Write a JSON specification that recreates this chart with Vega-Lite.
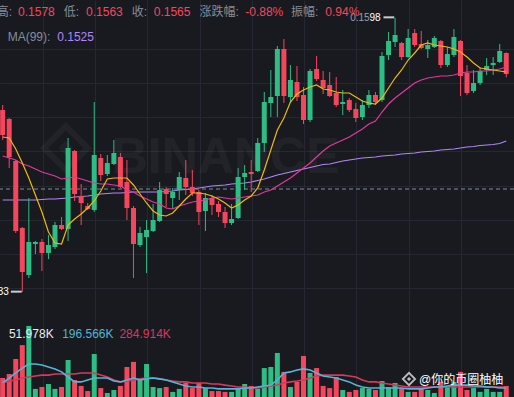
{
"$schema": "https://vega.github.io/schema/vega-lite/v6.json",
"width": 514, "height": 397, "autosize": {"type": "none"}, "padding": 0,
"background": "#181a20",
"config": {"view": {"stroke": null}, "axis": {"labels": false, "ticks": false, "domain": false, "grid": true, "gridColor": "#252830", "gridWidth": 1, "minExtent": 0, "maxExtent": 0}},
"data": {"values": [
{"i":-1,"o":0.15434,"h":0.15464,"l":0.15254,"c":0.15284,"v":89,"m7":0.15272,"m25":0.15158,"m99":0.14894,"vm5":66,"vm10":66},
{"i":0,"o":0.15380,"h":0.15386,"l":0.15086,"c":0.15152,"v":108,"m7":0.15266,"m25":0.15146,"m99":0.14894,"vm5":89,"vm10":75},
{"i":1,"o":0.15128,"h":0.15134,"l":0.14696,"c":0.14708,"v":179,"m7":0.15200,"m25":0.15134,"m99":0.14894,"vm5":113,"vm10":80},
{"i":2,"o":0.14726,"h":0.14732,"l":0.14342,"c":0.14462,"v":244,"m7":0.15116,"m25":0.15110,"m99":0.14894,"vm5":136,"vm10":89},
{"i":3,"o":0.14444,"h":0.14906,"l":0.14426,"c":0.14642,"v":334,"m7":0.15026,"m25":0.15098,"m99":0.14894,"vm5":155,"vm10":94},
{"i":4,"o":0.14630,"h":0.14648,"l":0.14570,"c":0.14642,"v":38,"m7":0.14924,"m25":0.15080,"m99":0.14894,"vm5":155,"vm10":99},
{"i":5,"o":0.14642,"h":0.14660,"l":0.14468,"c":0.14576,"v":47,"m7":0.14822,"m25":0.15062,"m99":0.14897,"vm5":150,"vm10":103},
{"i":6,"o":0.14576,"h":0.14684,"l":0.14540,"c":0.14624,"v":61,"m7":0.14702,"m25":0.15050,"m99":0.14900,"vm5":141,"vm10":103},
{"i":7,"o":0.14612,"h":0.14762,"l":0.14600,"c":0.14744,"v":38,"m7":0.14636,"m25":0.15038,"m99":0.14900,"vm5":132,"vm10":108},
{"i":8,"o":0.14744,"h":0.14792,"l":0.14714,"c":0.14720,"v":47,"m7":0.14630,"m25":0.15020,"m99":0.14903,"vm5":118,"vm10":108},
{"i":9,"o":0.14720,"h":0.15266,"l":0.14648,"c":0.15206,"v":174,"m7":0.14744,"m25":0.15026,"m99":0.14906,"vm5":94,"vm10":108},
{"i":10,"o":0.15188,"h":0.15194,"l":0.14888,"c":0.14930,"v":80,"m7":0.14780,"m25":0.15032,"m99":0.14912,"vm5":71,"vm10":108},
{"i":11,"o":0.14918,"h":0.14990,"l":0.14744,"c":0.14876,"v":52,"m7":0.14810,"m25":0.15020,"m99":0.14915,"vm5":71,"vm10":113},
{"i":12,"o":0.14858,"h":0.14876,"l":0.14834,"c":0.14840,"v":28,"m7":0.14846,"m25":0.15008,"m99":0.14918,"vm5":80,"vm10":113},
{"i":13,"o":0.14834,"h":0.15482,"l":0.14822,"c":0.15164,"v":202,"m7":0.14888,"m25":0.14996,"m99":0.14924,"vm5":89,"vm10":113},
{"i":14,"o":0.15146,"h":0.15170,"l":0.15008,"c":0.15044,"v":42,"m7":0.14948,"m25":0.14990,"m99":0.14930,"vm5":89,"vm10":103},
{"i":15,"o":0.15050,"h":0.15164,"l":0.15038,"c":0.15116,"v":19,"m7":0.15020,"m25":0.14990,"m99":0.14933,"vm5":89,"vm10":94},
{"i":16,"o":0.15110,"h":0.15254,"l":0.15104,"c":0.15176,"v":33,"m7":0.15026,"m25":0.14984,"m99":0.14936,"vm5":75,"vm10":80},
{"i":17,"o":0.15152,"h":0.15176,"l":0.14966,"c":0.14972,"v":52,"m7":0.15026,"m25":0.14978,"m99":0.14936,"vm5":71,"vm10":71},
{"i":18,"o":0.15002,"h":0.15134,"l":0.14774,"c":0.14846,"v":141,"m7":0.15026,"m25":0.14954,"m99":0.14939,"vm5":80,"vm10":75},
{"i":19,"o":0.14846,"h":0.14858,"l":0.14426,"c":0.14630,"v":165,"m7":0.14984,"m25":0.14942,"m99":0.14942,"vm5":89,"vm10":80},
{"i":20,"o":0.14624,"h":0.14732,"l":0.14612,"c":0.14696,"v":80,"m7":0.14930,"m25":0.14918,"m99":0.14942,"vm5":80,"vm10":85},
{"i":21,"o":0.14672,"h":0.14774,"l":0.14456,"c":0.14714,"v":155,"m7":0.14876,"m25":0.14900,"m99":0.14942,"vm5":85,"vm10":89},
{"i":22,"o":0.14708,"h":0.14870,"l":0.14702,"c":0.14774,"v":47,"m7":0.14828,"m25":0.14882,"m99":0.14942,"vm5":89,"vm10":89},
{"i":23,"o":0.14768,"h":0.15002,"l":0.14762,"c":0.14954,"v":42,"m7":0.14804,"m25":0.14870,"m99":0.14942,"vm5":85,"vm10":85},
{"i":24,"o":0.14960,"h":0.14972,"l":0.14852,"c":0.14930,"v":47,"m7":0.14798,"m25":0.14846,"m99":0.14945,"vm5":80,"vm10":80},
{"i":25,"o":0.14906,"h":0.14966,"l":0.14840,"c":0.14942,"v":24,"m7":0.14816,"m25":0.14840,"m99":0.14948,"vm5":71,"vm10":75},
{"i":26,"o":0.14954,"h":0.15062,"l":0.14894,"c":0.15032,"v":38,"m7":0.14858,"m25":0.14858,"m99":0.14954,"vm5":61,"vm10":71},
{"i":27,"o":0.15026,"h":0.15134,"l":0.14924,"c":0.14972,"v":66,"m7":0.14900,"m25":0.14870,"m99":0.14957,"vm5":52,"vm10":71},
{"i":28,"o":0.14972,"h":0.15074,"l":0.14918,"c":0.14936,"v":42,"m7":0.14936,"m25":0.14882,"m99":0.14960,"vm5":47,"vm10":66},
{"i":29,"o":0.14942,"h":0.14954,"l":0.14744,"c":0.14822,"v":66,"m7":0.14936,"m25":0.14888,"m99":0.14966,"vm5":47,"vm10":66},
{"i":30,"o":0.14828,"h":0.14936,"l":0.14708,"c":0.14906,"v":42,"m7":0.14930,"m25":0.14894,"m99":0.14972,"vm5":42,"vm10":66},
{"i":31,"o":0.14906,"h":0.14924,"l":0.14804,"c":0.14864,"v":28,"m7":0.14918,"m25":0.14906,"m99":0.14978,"vm5":42,"vm10":61},
{"i":32,"o":0.14870,"h":0.14888,"l":0.14792,"c":0.14822,"v":28,"m7":0.14900,"m25":0.14912,"m99":0.14981,"vm5":38,"vm10":61},
{"i":33,"o":0.14822,"h":0.14852,"l":0.14726,"c":0.14756,"v":24,"m7":0.14876,"m25":0.14906,"m99":0.14984,"vm5":38,"vm10":56},
{"i":34,"o":0.14756,"h":0.14870,"l":0.14744,"c":0.14780,"v":24,"m7":0.14846,"m25":0.14900,"m99":0.14990,"vm5":38,"vm10":52},
{"i":35,"o":0.14786,"h":0.15086,"l":0.14780,"c":0.15032,"v":42,"m7":0.14864,"m25":0.14906,"m99":0.14993,"vm5":38,"vm10":47},
{"i":36,"o":0.15032,"h":0.15104,"l":0.14954,"c":0.15056,"v":61,"m7":0.14894,"m25":0.14912,"m99":0.14996,"vm5":42,"vm10":47},
{"i":37,"o":0.15062,"h":0.15134,"l":0.14942,"c":0.15050,"v":52,"m7":0.14918,"m25":0.14918,"m99":0.15002,"vm5":42,"vm10":42},
{"i":38,"o":0.15068,"h":0.15266,"l":0.15062,"c":0.15236,"v":38,"m7":0.14966,"m25":0.14924,"m99":0.15011,"vm5":47,"vm10":42},
{"i":39,"o":0.15236,"h":0.15542,"l":0.15182,"c":0.15482,"v":136,"m7":0.15074,"m25":0.14942,"m99":0.15020,"vm5":52,"vm10":47},
{"i":40,"o":0.15476,"h":0.15674,"l":0.15392,"c":0.15512,"v":141,"m7":0.15194,"m25":0.14954,"m99":0.15032,"vm5":56,"vm10":52},
{"i":41,"o":0.15518,"h":0.15818,"l":0.15392,"c":0.15800,"v":207,"m7":0.15314,"m25":0.14978,"m99":0.15044,"vm5":80,"vm10":56},
{"i":42,"o":0.15800,"h":0.15860,"l":0.15476,"c":0.15518,"v":118,"m7":0.15386,"m25":0.15002,"m99":0.15053,"vm5":113,"vm10":66},
{"i":43,"o":0.15512,"h":0.15704,"l":0.15476,"c":0.15614,"v":47,"m7":0.15482,"m25":0.15026,"m99":0.15062,"vm5":118,"vm10":71},
{"i":44,"o":0.15602,"h":0.15698,"l":0.15488,"c":0.15512,"v":71,"m7":0.15530,"m25":0.15056,"m99":0.15071,"vm5":127,"vm10":75},
{"i":45,"o":0.15524,"h":0.15572,"l":0.15350,"c":0.15374,"v":193,"m7":0.15554,"m25":0.15086,"m99":0.15080,"vm5":132,"vm10":80},
{"i":46,"o":0.15374,"h":0.15680,"l":0.15362,"c":0.15668,"v":113,"m7":0.15572,"m25":0.15116,"m99":0.15089,"vm5":127,"vm10":89},
{"i":47,"o":0.15680,"h":0.15758,"l":0.15608,"c":0.15620,"v":136,"m7":0.15584,"m25":0.15152,"m99":0.15098,"vm5":113,"vm10":99},
{"i":48,"o":0.15614,"h":0.15668,"l":0.15530,"c":0.15566,"v":52,"m7":0.15560,"m25":0.15188,"m99":0.15107,"vm5":99,"vm10":103},
{"i":49,"o":0.15584,"h":0.15662,"l":0.15512,"c":0.15518,"v":42,"m7":0.15554,"m25":0.15218,"m99":0.15110,"vm5":94,"vm10":103},
{"i":50,"o":0.15536,"h":0.15632,"l":0.15452,"c":0.15464,"v":94,"m7":0.15542,"m25":0.15236,"m99":0.15119,"vm5":89,"vm10":103},
{"i":51,"o":0.15470,"h":0.15554,"l":0.15404,"c":0.15482,"v":33,"m7":0.15536,"m25":0.15254,"m99":0.15128,"vm5":80,"vm10":103},
{"i":52,"o":0.15494,"h":0.15506,"l":0.15422,"c":0.15434,"v":24,"m7":0.15536,"m25":0.15272,"m99":0.15134,"vm5":71,"vm10":99},
{"i":53,"o":0.15440,"h":0.15476,"l":0.15362,"c":0.15386,"v":33,"m7":0.15512,"m25":0.15296,"m99":0.15140,"vm5":56,"vm10":94},
{"i":54,"o":0.15392,"h":0.15494,"l":0.15374,"c":0.15464,"v":42,"m7":0.15488,"m25":0.15320,"m99":0.15146,"vm5":47,"vm10":80},
{"i":55,"o":0.15464,"h":0.15554,"l":0.15446,"c":0.15524,"v":38,"m7":0.15476,"m25":0.15350,"m99":0.15149,"vm5":42,"vm10":71},
{"i":56,"o":0.15524,"h":0.15542,"l":0.15464,"c":0.15482,"v":33,"m7":0.15470,"m25":0.15368,"m99":0.15152,"vm5":42,"vm10":71},
{"i":57,"o":0.15494,"h":0.15782,"l":0.15482,"c":0.15758,"v":75,"m7":0.15506,"m25":0.15422,"m99":0.15158,"vm5":42,"vm10":66},
{"i":58,"o":0.15764,"h":0.15902,"l":0.15734,"c":0.15848,"v":47,"m7":0.15566,"m25":0.15470,"m99":0.15161,"vm5":42,"vm10":61},
{"i":59,"o":0.15842,"h":0.15986,"l":0.15812,"c":0.15884,"v":66,"m7":0.15626,"m25":0.15506,"m99":0.15164,"vm5":42,"vm10":56},
{"i":60,"o":0.15836,"h":0.15842,"l":0.15734,"c":0.15752,"v":42,"m7":0.15674,"m25":0.15536,"m99":0.15170,"vm5":42,"vm10":52},
{"i":61,"o":0.15752,"h":0.15920,"l":0.15746,"c":0.15866,"v":24,"m7":0.15734,"m25":0.15566,"m99":0.15173,"vm5":38,"vm10":47},
{"i":62,"o":0.15896,"h":0.15920,"l":0.15812,"c":0.15824,"v":24,"m7":0.15776,"m25":0.15596,"m99":0.15176,"vm5":38,"vm10":47},
{"i":63,"o":0.15830,"h":0.15908,"l":0.15800,"c":0.15806,"v":42,"m7":0.15824,"m25":0.15614,"m99":0.15182,"vm5":38,"vm10":47},
{"i":64,"o":0.15800,"h":0.15854,"l":0.15746,"c":0.15824,"v":33,"m7":0.15836,"m25":0.15626,"m99":0.15185,"vm5":42,"vm10":47},
{"i":65,"o":0.15812,"h":0.15878,"l":0.15806,"c":0.15866,"v":19,"m7":0.15824,"m25":0.15632,"m99":0.15188,"vm5":47,"vm10":47},
{"i":66,"o":0.15848,"h":0.15854,"l":0.15686,"c":0.15704,"v":71,"m7":0.15818,"m25":0.15638,"m99":0.15194,"vm5":47,"vm10":47},
{"i":67,"o":0.15704,"h":0.15812,"l":0.15692,"c":0.15770,"v":47,"m7":0.15812,"m25":0.15638,"m99":0.15197,"vm5":52,"vm10":47},
{"i":68,"o":0.15764,"h":0.15920,"l":0.15752,"c":0.15872,"v":71,"m7":0.15800,"m25":0.15644,"m99":0.15200,"vm5":56,"vm10":47},
{"i":69,"o":0.15848,"h":0.15854,"l":0.15518,"c":0.15638,"v":118,"m7":0.15782,"m25":0.15656,"m99":0.15206,"vm5":56,"vm10":47},
{"i":70,"o":0.15656,"h":0.15704,"l":0.15524,"c":0.15536,"v":33,"m7":0.15752,"m25":0.15662,"m99":0.15212,"vm5":56,"vm10":47},
{"i":71,"o":0.15548,"h":0.15674,"l":0.15536,"c":0.15596,"v":42,"m7":0.15716,"m25":0.15662,"m99":0.15215,"vm5":52,"vm10":47},
{"i":72,"o":0.15596,"h":0.15692,"l":0.15584,"c":0.15668,"v":24,"m7":0.15686,"m25":0.15668,"m99":0.15221,"vm5":52,"vm10":47},
{"i":73,"o":0.15674,"h":0.15746,"l":0.15644,"c":0.15698,"v":38,"m7":0.15680,"m25":0.15668,"m99":0.15224,"vm5":47,"vm10":47},
{"i":74,"o":0.15704,"h":0.15752,"l":0.15644,"c":0.15716,"v":24,"m7":0.15674,"m25":0.15674,"m99":0.15227,"vm5":47,"vm10":47},
{"i":75,"o":0.15722,"h":0.15830,"l":0.15716,"c":0.15788,"v":24,"m7":0.15668,"m25":0.15680,"m99":0.15233,"vm5":42,"vm10":47},
{"i":76,"o":0.15776,"h":0.15780,"l":0.15630,"c":0.15650,"v":52,"m7":0.15662,"m25":0.15692,"m99":0.15248,"vm5":42,"vm10":47}
]},
"resolve": {"scale": {"y": "independent"}},
"layer": [
{"layer": [
 {"mark": {"type": "rule", "color": "#5e6673", "strokeDash": [4, 3], "strokeWidth": 1.5},
  "encoding": {"x": {"field": "i", "type": "quantitative", "scale": {"domain": [-0.645, 76.42], "nice": false, "zero": false}, "axis": {"values": [5.1, 13.1, 21.1, 29.1, 37.1, 45.1, 53.1, 61.1, 69.1], "title": null}},
   "y": {"field": "l", "type": "quantitative", "aggregate": "min", "scale": {"domain": [0.13712, 0.16094], "nice": false, "zero": false}, "axis": {"values": [0.158, 0.15596, 0.15392, 0.15188, 0.14978, 0.14774, 0.1457, 0.14366], "title": null}},
   "opacity": {"value": 0}}},
 {"data": {"values": [{}]}, "mark": {"type": "rule", "color": "#5e6673", "strokeDash": [4, 3], "strokeWidth": 1.5},
  "encoding": {"y": {"datum": 0.1496, "type": "quantitative"}}},
 {"data": {"values": [{}]}, "mark": {"type": "text", "text": "BINANCE", "font": "Liberation Sans", "fontWeight": "bold", "fontSize": 50, "align": "center", "baseline": "alphabetic", "color": "#ffffff", "opacity": 0.04},
  "encoding": {"x": {"datum": 33.09, "type": "quantitative"}, "y": {"datum": 0.15056, "type": "quantitative"}}},
 {"data": {"values": [{}]}, "mark": {"type": "point", "shape": "diamond", "size": 1900, "filled": false, "strokeWidth": 6, "color": "#ffffff", "opacity": 0.04},
  "encoding": {"x": {"datum": 8.651, "type": "quantitative"}, "y": {"datum": 0.15206, "type": "quantitative"}}},
 {"data": {"values": [{}]}, "mark": {"type": "point", "shape": "diamond", "size": 220, "filled": true, "color": "#ffffff", "opacity": 0.04},
  "encoding": {"x": {"datum": 8.651, "type": "quantitative"}, "y": {"datum": 0.15206, "type": "quantitative"}}},
 {"mark": {"type": "line", "color": "#b385f8", "strokeWidth": 1.2},
  "encoding": {"x": {"field": "i", "type": "quantitative"}, "y": {"field": "m99", "type": "quantitative"}}},
 {"mark": {"type": "rule", "strokeWidth": 1},
  "encoding": {"x": {"field": "i", "type": "quantitative"}, "y": {"field": "l", "type": "quantitative"}, "y2": {"field": "h"},
   "color": {"condition": {"test": "datum.c >= datum.o", "value": "#2ebd85"}, "value": "#f6465d"}}},
 {"mark": {"type": "bar", "size": 5},
  "encoding": {"x": {"field": "i", "type": "quantitative"}, "y": {"field": "o", "type": "quantitative"}, "y2": {"field": "c"},
   "color": {"condition": {"test": "datum.c >= datum.o", "value": "#2ebd85"}, "value": "#f6465d"}}},
 {"mark": {"type": "line", "color": "#e0399f", "strokeWidth": 1.2},
  "encoding": {"x": {"field": "i", "type": "quantitative"}, "y": {"field": "m25", "type": "quantitative"}}},
 {"mark": {"type": "line", "color": "#f0b90b", "strokeWidth": 1.2},
  "encoding": {"x": {"field": "i", "type": "quantitative"}, "y": {"field": "m7", "type": "quantitative"}}},
 {"data": {"values": [{}]}, "mark": {"type": "rule", "color": "#c9ccd1", "strokeWidth": 2},
  "encoding": {"x": {"datum": 57.229, "type": "quantitative"}, "x2": {"datum": 58.878}, "y": {"datum": 0.1599, "type": "quantitative"}}},
 {"data": {"values": [{}]}, "mark": {"type": "text", "text": "0.15", "fontSize": 10, "font": "Liberation Sans", "align": "right", "baseline": "alphabetic", "color": "#9aa0a8"},
  "encoding": {"x": {"datum": 55.115, "type": "quantitative"}, "y": {"datum": 0.1597, "type": "quantitative"}}},
 {"data": {"values": [{}]}, "mark": {"type": "text", "text": "98", "fontSize": 10, "font": "Liberation Sans", "align": "right", "baseline": "alphabetic", "color": "#ffffff"},
  "encoding": {"x": {"datum": 56.779, "type": "quantitative"}, "y": {"datum": 0.1597, "type": "quantitative"}}},
 {"data": {"values": [{}]}, "mark": {"type": "rule", "color": "#c9ccd1", "strokeWidth": 2},
  "encoding": {"x": {"datum": 0.255, "type": "quantitative"}, "x2": {"datum": 1.904}, "y": {"datum": 0.14344, "type": "quantitative"}}},
 {"data": {"values": [{}]}, "mark": {"type": "text", "text": "0.1433", "fontSize": 10, "font": "Liberation Sans", "align": "right", "baseline": "alphabetic", "color": "#ffffff"},
  "encoding": {"x": {"datum": -0.045, "type": "quantitative"}, "y": {"datum": 0.14324, "type": "quantitative"}}},
 {"data": {"values": [{}]}, "mark": {"type": "text", "text": "高:", "fontSize": 12, "font": "Liberation Sans, Noto Sans CJK SC", "align": "left", "baseline": "alphabetic", "color": "#848e9c"},
  "encoding": {"x": {"datum": -1.919, "type": "quantitative"}, "y": {"datum": 0.15998, "type": "quantitative"}}},
 {"data": {"values": [{}]}, "mark": {"type": "text", "text": "0.1578", "fontSize": 12, "font": "Liberation Sans", "align": "left", "baseline": "alphabetic", "color": "#f6465d"},
  "encoding": {"x": {"datum": 1.349, "type": "quantitative"}, "y": {"datum": 0.15998, "type": "quantitative"}}},
 {"data": {"values": [{}]}, "mark": {"type": "text", "text": "低:", "fontSize": 12, "font": "Liberation Sans, Noto Sans CJK SC", "align": "left", "baseline": "alphabetic", "color": "#848e9c"},
  "encoding": {"x": {"datum": 8.351, "type": "quantitative"}, "y": {"datum": 0.15998, "type": "quantitative"}}},
 {"data": {"values": [{}]}, "mark": {"type": "text", "text": "0.1563", "fontSize": 12, "font": "Liberation Sans", "align": "left", "baseline": "alphabetic", "color": "#f6465d"},
  "encoding": {"x": {"datum": 11.755, "type": "quantitative"}, "y": {"datum": 0.15998, "type": "quantitative"}}},
 {"data": {"values": [{}]}, "mark": {"type": "text", "text": "收:", "fontSize": 12, "font": "Liberation Sans, Noto Sans CJK SC", "align": "left", "baseline": "alphabetic", "color": "#848e9c"},
  "encoding": {"x": {"datum": 18.741, "type": "quantitative"}, "y": {"datum": 0.15998, "type": "quantitative"}}},
 {"data": {"values": [{}]}, "mark": {"type": "text", "text": "0.1565", "fontSize": 12, "font": "Liberation Sans", "align": "left", "baseline": "alphabetic", "color": "#f6465d"},
  "encoding": {"x": {"datum": 22.1, "type": "quantitative"}, "y": {"datum": 0.15998, "type": "quantitative"}}},
 {"data": {"values": [{}]}, "mark": {"type": "text", "text": "涨跌幅:", "fontSize": 12, "font": "Liberation Sans, Noto Sans CJK SC", "align": "left", "baseline": "alphabetic", "color": "#848e9c"},
  "encoding": {"x": {"datum": 29.087, "type": "quantitative"}, "y": {"datum": 0.15998, "type": "quantitative"}}},
 {"data": {"values": [{}]}, "mark": {"type": "text", "text": "-0.88%", "fontSize": 12, "font": "Liberation Sans", "align": "left", "baseline": "alphabetic", "color": "#f6465d"},
  "encoding": {"x": {"datum": 36.088, "type": "quantitative"}, "y": {"datum": 0.15998, "type": "quantitative"}}},
 {"data": {"values": [{}]}, "mark": {"type": "text", "text": "振幅:", "fontSize": 12, "font": "Liberation Sans, Noto Sans CJK SC", "align": "left", "baseline": "alphabetic", "color": "#848e9c"},
  "encoding": {"x": {"datum": 43.09, "type": "quantitative"}, "y": {"datum": 0.15998, "type": "quantitative"}}},
 {"data": {"values": [{}]}, "mark": {"type": "text", "text": "0.94%", "fontSize": 12, "font": "Liberation Sans", "align": "left", "baseline": "alphabetic", "color": "#f6465d"},
  "encoding": {"x": {"datum": 48.338, "type": "quantitative"}, "y": {"datum": 0.15998, "type": "quantitative"}}},
 {"data": {"values": [{}]}, "mark": {"type": "text", "text": "MA(99):", "fontSize": 12, "font": "Liberation Sans", "align": "left", "baseline": "alphabetic", "color": "#848e9c"},
  "encoding": {"x": {"datum": -0.24, "type": "quantitative"}, "y": {"datum": 0.1585, "type": "quantitative"}}},
 {"data": {"values": [{}]}, "mark": {"type": "text", "text": "0.1525", "fontSize": 12, "font": "Liberation Sans", "align": "left", "baseline": "alphabetic", "color": "#b385f8"},
  "encoding": {"x": {"datum": 7.346, "type": "quantitative"}, "y": {"datum": 0.1585, "type": "quantitative"}}}
]},
{"layer": [
 {"mark": {"type": "bar", "size": 5},
  "encoding": {"x": {"field": "i", "type": "quantitative"},
   "y": {"field": "v", "type": "quantitative", "scale": {"domain": [0, 1865.9], "nice": false, "zero": true}, "axis": {"values": [263.2, 376], "title": null}},
   "color": {"condition": {"test": "datum.c >= datum.o", "value": "#2ebd85"}, "value": "#f6465d"}}},
 {"mark": {"type": "line", "color": "#d8385e", "strokeWidth": 1.6},
  "encoding": {"x": {"field": "i", "type": "quantitative"}, "y": {"field": "vm10", "type": "quantitative"}}},
 {"mark": {"type": "line", "color": "#52b6d8", "strokeWidth": 1.6},
  "encoding": {"x": {"field": "i", "type": "quantitative"}, "y": {"field": "vm5", "type": "quantitative"}}},
 {"data": {"values": [{}]}, "mark": {"type": "text", "text": "51.978K", "fontSize": 12, "font": "Liberation Sans", "align": "left", "baseline": "alphabetic", "color": "#eaecef"},
  "encoding": {"x": {"datum": -0.045, "type": "quantitative"}, "y": {"datum": 275.9, "type": "quantitative"}}},
 {"data": {"values": [{}]}, "mark": {"type": "text", "text": "196.566K", "fontSize": 12, "font": "Liberation Sans", "align": "left", "baseline": "alphabetic", "color": "#52b6d8"},
  "encoding": {"x": {"datum": 8.096, "type": "quantitative"}, "y": {"datum": 275.9, "type": "quantitative"}}},
 {"data": {"values": [{}]}, "mark": {"type": "text", "text": "284.914K", "fontSize": 12, "font": "Liberation Sans", "align": "left", "baseline": "alphabetic", "color": "#d8385e"},
  "encoding": {"x": {"datum": 16.852, "type": "quantitative"}, "y": {"datum": 275.9, "type": "quantitative"}}},
 {"data": {"values": [{}]}, "mark": {"type": "point", "shape": "diamond", "size": 150, "filled": false, "strokeWidth": 1.8, "color": "#ffffff"},
  "encoding": {"x": {"datum": 61.127, "type": "quantitative"}, "y": {"datum": 84.6, "type": "quantitative"}}},
 {"data": {"values": [{}]}, "mark": {"type": "point", "shape": "diamond", "size": 18, "filled": true, "color": "#ffffff"},
  "encoding": {"x": {"datum": 61.127, "type": "quantitative"}, "y": {"datum": 84.6, "type": "quantitative"}}},
 {"data": {"values": [{}]}, "mark": {"type": "text", "text": "@你的币圈柚柚", "fontSize": 12, "font": "Liberation Sans, Noto Sans CJK SC", "align": "left", "baseline": "alphabetic", "color": "#ffffff"},
  "encoding": {"x": {"datum": 62.672, "type": "quantitative"}, "y": {"datum": 61.1, "type": "quantitative"}}}
]}
]
}
